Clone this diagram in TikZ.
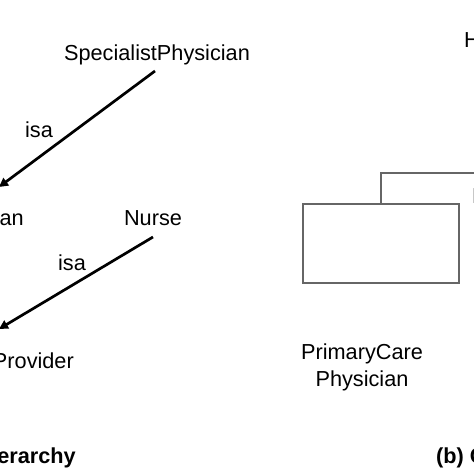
\documentclass[tikz,border=0pt]{standalone}
\usepackage{fontspec}
\setmainfont{Liberation Sans}
\usetikzlibrary{arrows.meta}
\begin{document}
\begin{tikzpicture}[x=1pt,y=-1pt,
  lbl/.style={font=\fontsize{21.7}{27}\selectfont, inner sep=0pt},
  ttl/.style={font=\fontsize{21.7}{27}\selectfont\bfseries, inner sep=0pt},
  isaarrow/.style={line width=2.7pt, -{Triangle[length=9pt,width=9pt]}},
  boxline/.style={draw=black!60, line width=1.3pt}]
\clip (0,0) rectangle (474,474);
\fill[white] (0,0) rectangle (474,474);
% (a) hierarchy
\node[lbl, anchor=base] (sp) at (157,60) {SpecialistPhysician};
\node[lbl, anchor=base east] (phys) at (24,225) {an};
\node[lbl, anchor=base] (nurse) at (153,225) {Nurse};
\node[lbl, anchor=base east] (hcp) at (74,368) {Provider};
\node[lbl, anchor=base] (isa1) at (39,137) {isa};
\node[lbl, anchor=base] (isa2) at (72,270) {isa};
\coordinate (a1s) at (155,71);
\coordinate (a1e) at (-1,187);
\coordinate (a2s) at (153,237);
\coordinate (a2e) at (-1,329);
\draw[isaarrow] (a1s) -- (a1e);
\draw[isaarrow] (a2s) -- (a2e);
% (b) graphical
\node[lbl, anchor=base west] (h) at (464,47) {H};
\node[lbl, anchor=base west] (p) at (472,203) {H};
\draw[boxline] (381,204) -- (381,173) -- (480,173);
\draw[boxline] (303,204) rectangle (459,283);
\node[lbl, anchor=base, align=center] (pcp) at (362,386) {PrimaryCare\\Physician};
% captions
\node[ttl, anchor=base east] (capa) at (76,463) {erarchy};
\node[ttl, anchor=base west] (capb) at (436,463) {(b) G};
\end{tikzpicture}
\end{document}
